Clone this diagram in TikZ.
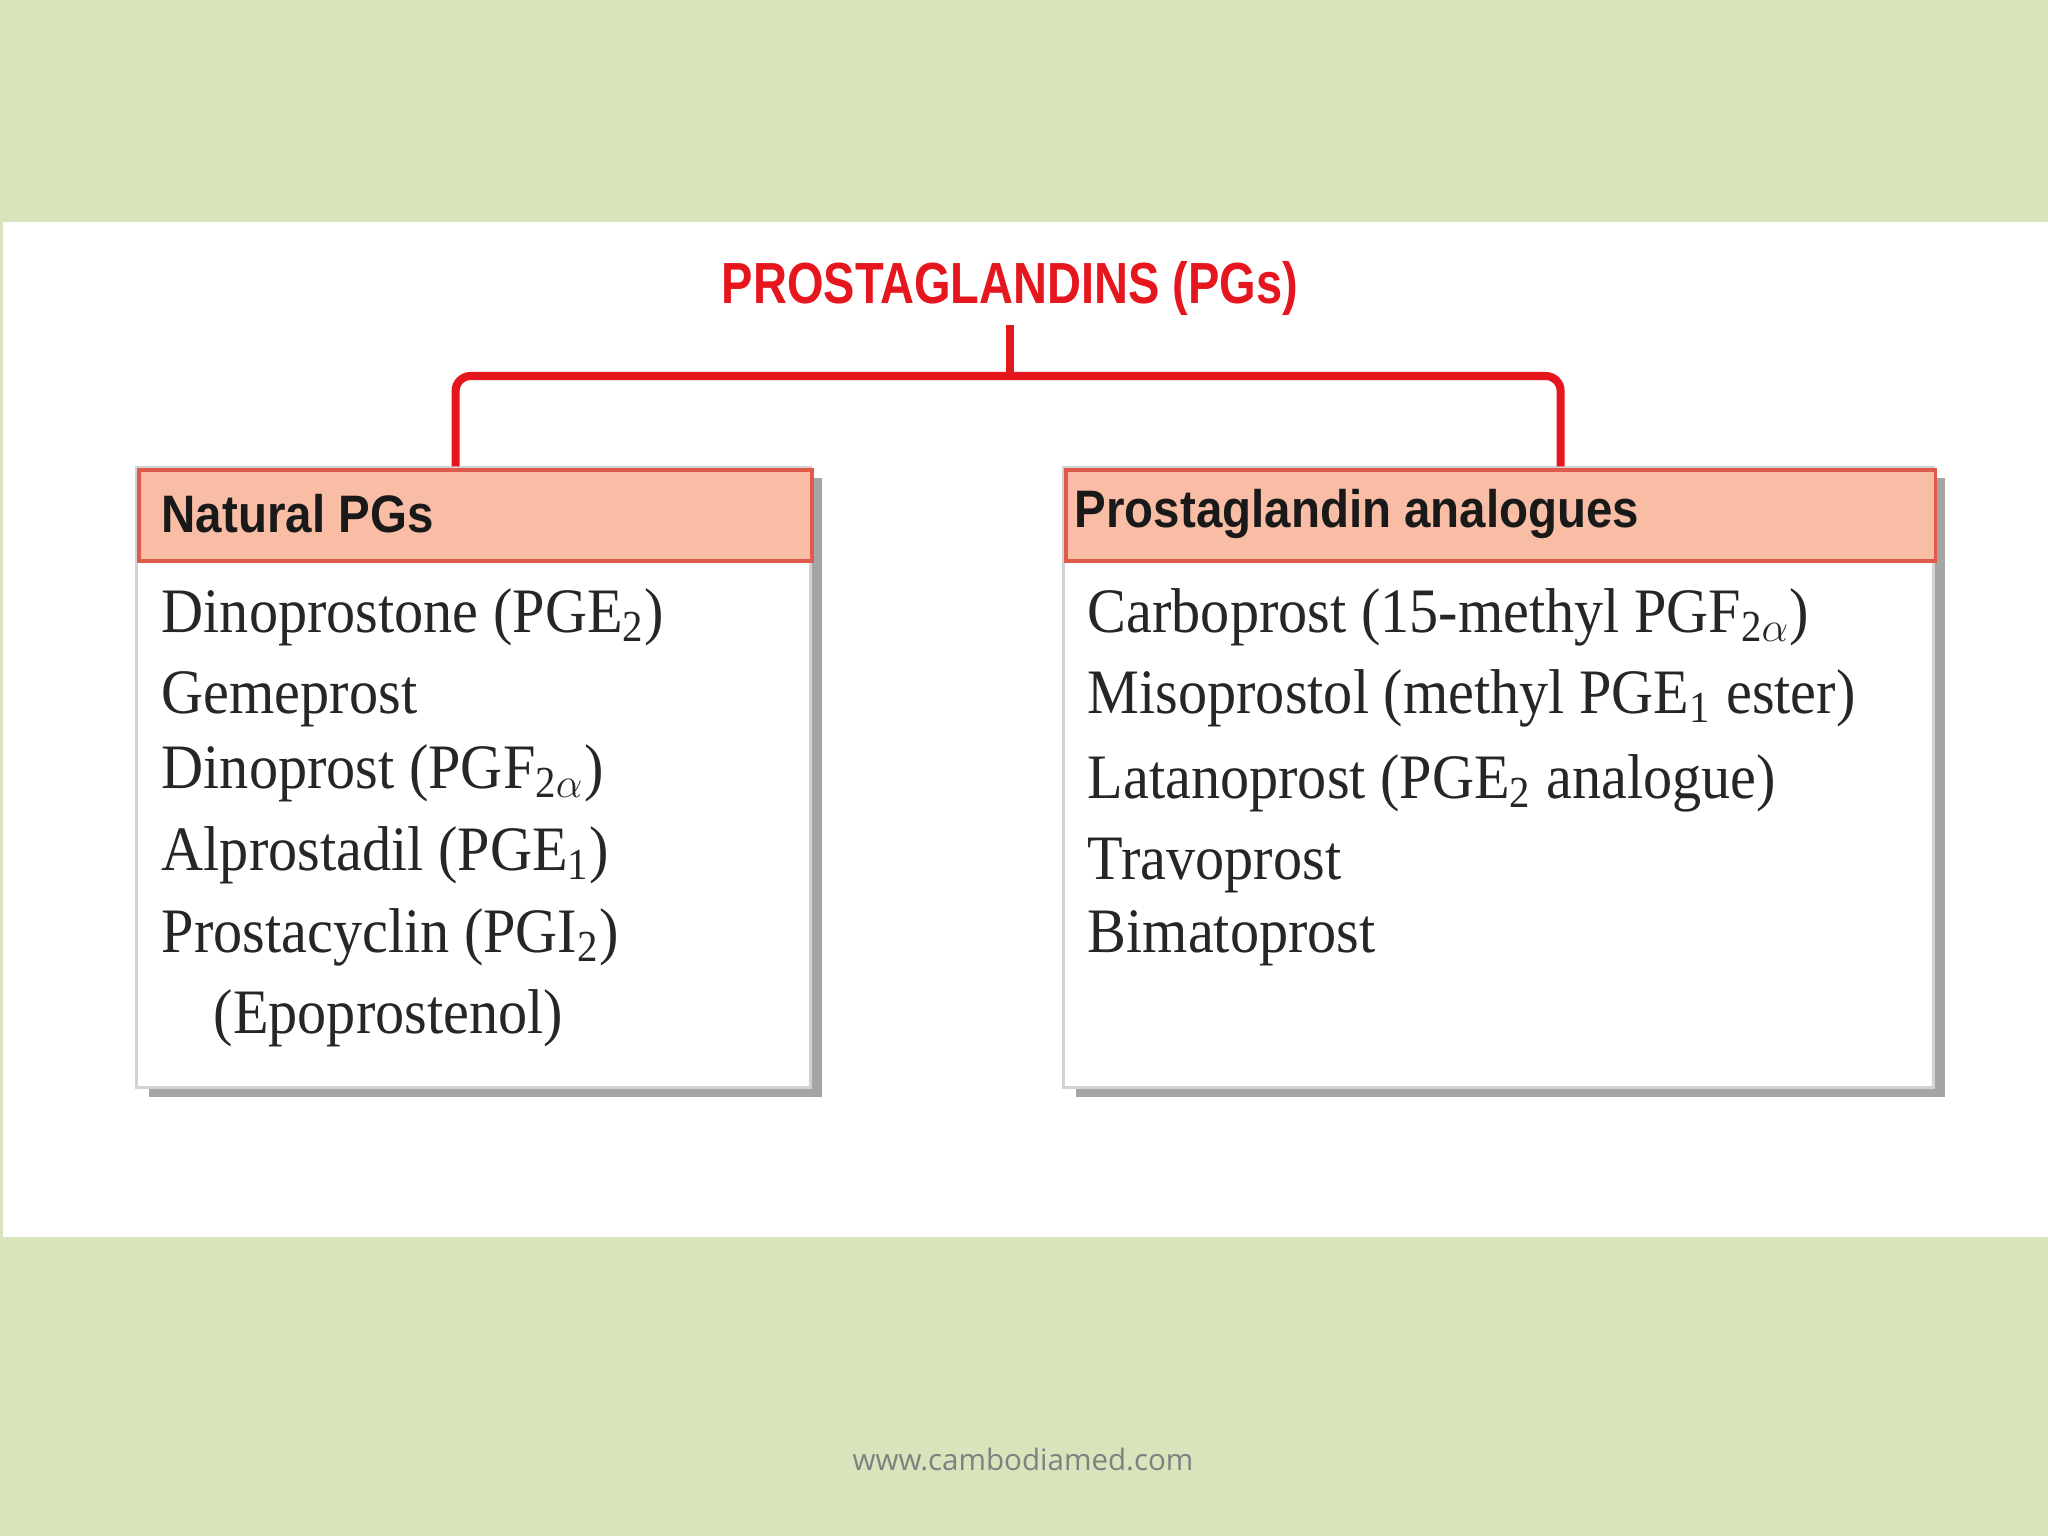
\documentclass[tikz,border=0pt]{standalone}
\usepackage{fontspec}
\setmainfont{Liberation Serif}[FakeStretch=0.92]
\newfontfamily\hdfont{Liberation Sans}[FakeStretch=0.9]
\newfontfamily\ttlfont{Liberation Sans}[FakeStretch=0.81]
\newfontfamily\webfont{Open Sans}
\usetikzlibrary{shadows}
\definecolor{pgbg}{RGB}{216,228,188}
\definecolor{pgred}{RGB}{230,22,30}
\definecolor{pghead}{RGB}{249,188,165}
\definecolor{pgedge}{RGB}{224,90,75}
\definecolor{pggrey}{RGB}{165,165,165}
\begin{document}
\begin{tikzpicture}[x=0.01cm,y=-0.01cm,
  link/.style={draw=pgred,line width=2.3pt,rounded corners=0.15cm},
  body/.style={draw=gray!35,fill=white,line width=0.8pt,minimum height=6.19cm,inner sep=0pt,
    drop shadow={shadow xshift=0.12cm,shadow yshift=-0.1cm,fill=pggrey,opacity=1}},
  head/.style={draw=pgedge,fill=pghead,line width=1pt,minimum height=0.91cm,inner sep=0pt,anchor=north west},
  item/.style={anchor=base west,inner sep=0pt,text=black!85,font=\fontsize{18pt}{22pt}\selectfont},
  htext/.style={anchor=base west,inner sep=0pt,text=black!90,font=\hdfont\bfseries\fontsize{15pt}{18pt}\selectfont}]
\useasboundingbox (0,0) rectangle (2048,1536);
\fill[pgbg] (0,0) rectangle (2048,1536);
\fill[white] (3,222) rectangle (2048,1237);

\node[anchor=base,inner sep=0pt,text=pgred,font=\ttlfont\bfseries\fontsize{16.5pt}{20pt}\selectfont] at (1010,303) (title) {PROSTAGLANDINS (PGs)};
\coordinate (split) at (1010,376);

\node[body,minimum width=6.73cm] at (473.5,777.5) (natbox) {};
\node[body,minimum width=8.69cm] at (1498.5,777.5) (anabox) {};

\draw[link] ([yshift=-0.09cm]title.south) -- (split);
\draw[link] ([xshift=3.2cm]natbox.north west) |- (split) -| ([xshift=4.98cm]anabox.north west);

\node[head,minimum width=6.73cm] at (137,468) (nathead) {};
\node[head,minimum width=8.69cm] at (1064,468) (anahead) {};
\node[htext] at (161,532) (natlbl) {Natural PGs};
\node[htext] at (1074,527) (analbl) {Prostaglandin analogues};

\node[item] at (161,632) (n1) {Dinoprostone (PGE\textsubscript{2})};
\node[item] at (161,713) (n2) {Gemeprost};
\node[item] at (161,788) (n3) {Dinoprost (PGF\textsubscript{2$\alpha$})};
\node[item] at (161,870) (n4) {Alprostadil (PGE\textsubscript{1})};
\node[item] at (161,952) (n5) {Prostacyclin (PGI\textsubscript{2})};
\node[item] at (213,1033) (n6) {(Epoprostenol)};

\node[item] at (1087,632) (a1) {Carboprost (15-methyl PGF\textsubscript{2$\alpha$})};
\node[item] at (1087,713) (a2) {Misoprostol (methyl PGE\textsubscript{1} ester)};
\node[item] at (1087,798) (a3) {Latanoprost (PGE\textsubscript{2} analogue)};
\node[item] at (1087,879) (a4) {Travoprost};
\node[item] at (1087,952) (a5) {Bimatoprost};

\node[anchor=base,inner sep=0pt,text=black!50,font=\webfont\fontsize{8.4pt}{10pt}\selectfont] at (1023,1470) (web) {www.cambodiamed.com};
\end{tikzpicture}
\end{document}
